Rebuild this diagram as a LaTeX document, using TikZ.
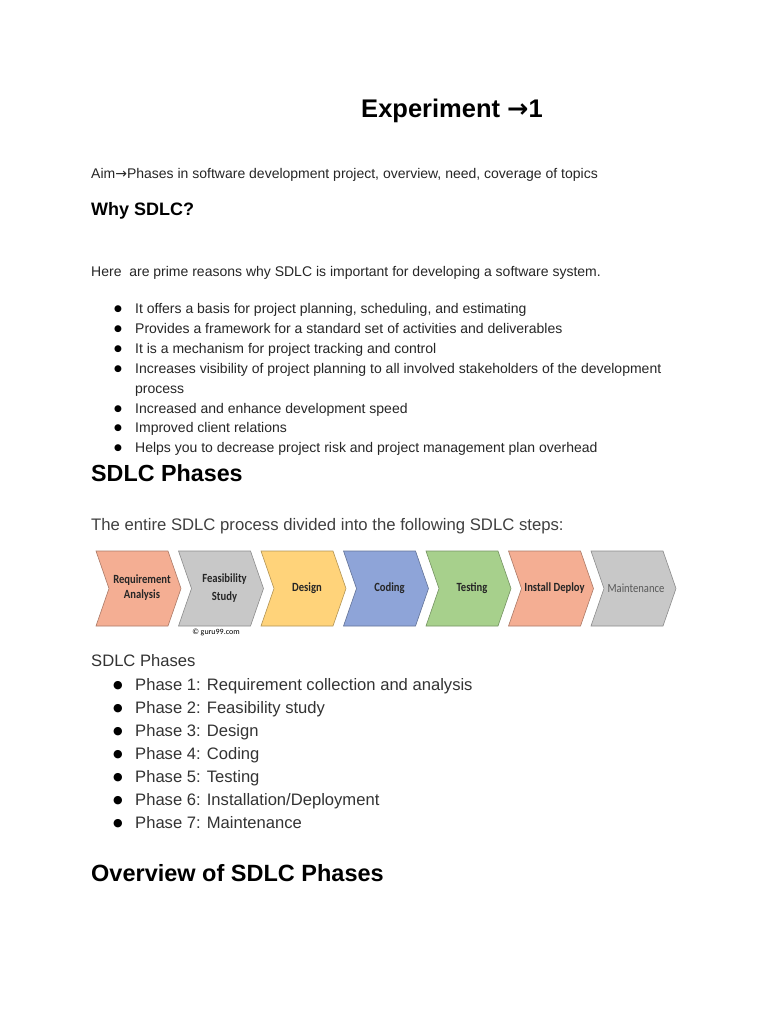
\documentclass[tikz,border=0pt]{standalone}
\usepackage{fontspec}
\setmainfont{Liberation Sans}
\newfontfamily\dv{DejaVu Sans}
\newfontfamily\carl{Carlito}
\begin{document}
\begin{tikzpicture}[x=1pt,y=-1pt,
  txt/.style={anchor=base west,inner sep=0pt,font=\fontsize{14}{14}\selectfont,text=black!85},
  bul/.style={anchor=base,inner sep=0pt,font=\dv\fontsize{9}{9}\selectfont},
  big/.style={anchor=base west,inner sep=0pt,font=\fontsize{16.6}{16}\selectfont,text=black!80},
  bigb/.style={anchor=base,inner sep=0pt,font=\dv\fontsize{11}{11}\selectfont},
  chev/.style={draw=#1!70!black,fill=#1,line width=0.6pt},
  clab/.style={font=\carl\fontsize{12.5}{15}\selectfont\bfseries,align=center,text=black!85,xscale=0.85}]
\useasboundingbox[fill=white] (0,0) rectangle (768,1024);
\node[anchor=base,inner sep=0pt,font=\fontsize{25.5}{25}\selectfont\bfseries] (title) at (452,118) {Experiment {\dv→}1};
\node[txt] (aim) at (91,179) {Aim{\dv→}Phases in software development project, overview, need, coverage of topics};
\node[txt,font=\fontsize{18}{18}\selectfont\bfseries,text=black] (why) at (91,216) {Why SDLC?};
\node[txt] (here) at (91,276) {Here\ \ are prime reasons why SDLC is important for developing a software system.};
\foreach \y/\t in {313/{It offers a basis for project planning, scheduling, and estimating},
  333/{Provides a framework for a standard set of activities and deliverables},
  353/{It is a mechanism for project tracking and control},
  373/{Increases visibility of project planning to all involved stakeholders of the development},
  413/{Increased and enhance development speed},
  432/{Improved client relations},
  452/{Helps you to decrease project risk and project management plan overhead}}{
  \node[bul] at (118,\y-1.5) {●};
  \node[txt] at (135,\y) {\t};}
\node[txt] (proc) at (135,393) {process};
\node[txt,font=\fontsize{23.3}{22}\selectfont\bfseries,text=black] (ph) at (91,481) {SDLC Phases};
\node[txt,font=\fontsize{16.7}{16}\selectfont,text=black!75] (ent) at (91,530) {The entire SDLC process divided into the following SDLC steps:};
\definecolor{c1}{HTML}{F4AE93}\definecolor{c2}{HTML}{C8C8C8}\definecolor{c3}{HTML}{FFD37A}
\definecolor{c4}{HTML}{8EA4D8}\definecolor{c5}{HTML}{A7D08C}\definecolor{c6}{HTML}{F4AE93}\definecolor{c7}{HTML}{C8C8C8}
\foreach \i/\c/\l in {0/c1/{Requirement\\Analysis},1/c2/{Feasibility\\[3pt]Study},2/c3/Design,3/c4/Coding,4/c5/Testing,5/c6/Install Deploy}{
  \pgfmathsetmacro{\xx}{96+82.5*\i}
  \draw[chev=\c] (\xx,551) -- ++(72,0) -- ++(13,37.5) -- ++(-13,37.5) -- ++(-72,0) -- ++(13,-37.5) -- cycle;
  \node[clab] (s\i) at (\xx+46,588) {\l};}
\draw[chev=c7] (591,551) -- ++(72,0) -- ++(13,37.5) -- ++(-13,37.5) -- ++(-72,0) -- ++(13,-37.5) -- cycle;
\node[clab,font=\carl\fontsize{12.5}{15}\selectfont,text=black!65] (s6) at (636,588) {Maintenance};
\node[font=\carl\fontsize{8}{8}\selectfont,inner sep=0pt] (g) at (216,632) {© guru99.com};
\node[big] (ph2) at (91,666) {SDLC Phases};
\foreach \y/\t in {690/{Phase 1: Requirement collection and analysis},713/{Phase 2: Feasibility study},736/{Phase 3: Design},759/{Phase 4: Coding},782/{Phase 5: Testing},805/{Phase 6: Installation/Deployment},828/{Phase 7: Maintenance}}{
  \node[bigb] at (118,\y-1.5) {●};
  \node[big] at (135,\y) {\t};}
\node[txt,font=\fontsize{23.5}{22}\selectfont\bfseries,text=black] (ov) at (91,881) {Overview of SDLC Phases};
\end{tikzpicture}
\end{document}
